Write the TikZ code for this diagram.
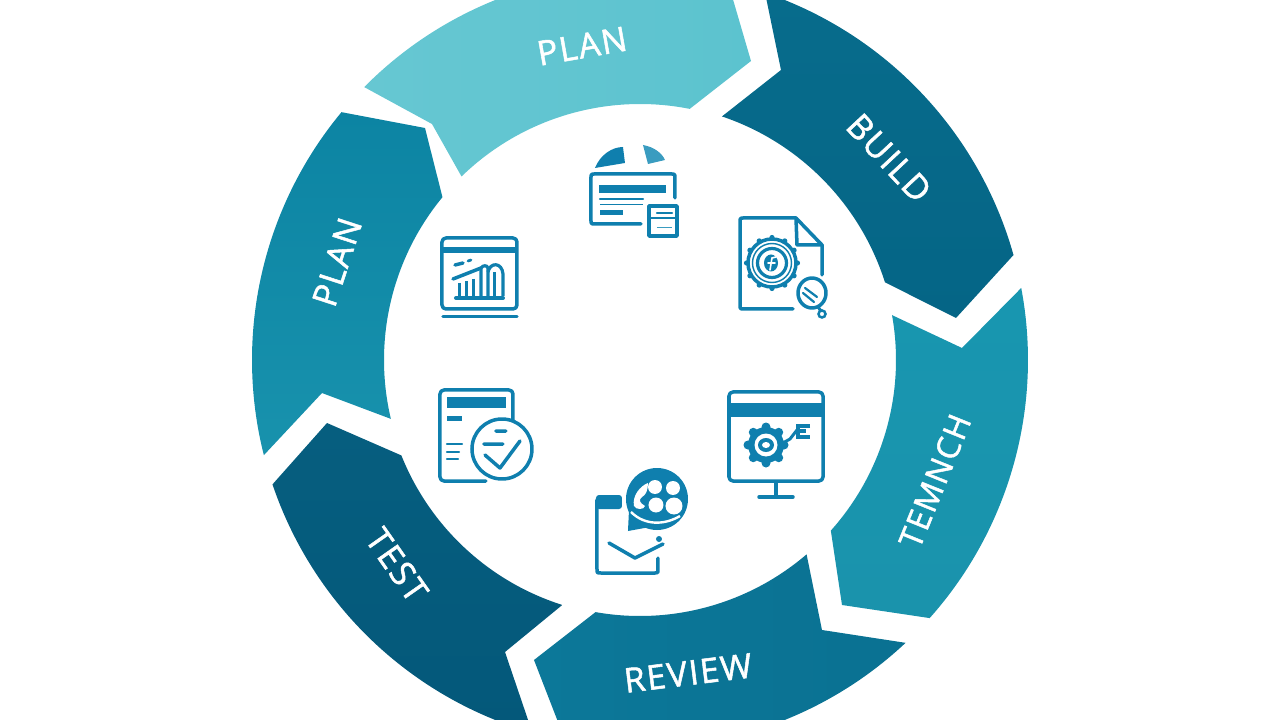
\documentclass[tikz,border=0pt]{standalone}
\usepackage{fontspec}
\setmainfont{Open Sans}
\newfontface\labelfont[FakeBold=1.5,LetterSpace=5]{Open Sans}
\definecolor{ic}{HTML}{0F7FAE}
\definecolor{icl}{HTML}{3A9CC0}
\definecolor{sega}{HTML}{66C7D2}
\definecolor{segb}{HTML}{5CC3CF}
\definecolor{segc}{HTML}{076C8C}
\definecolor{segd}{HTML}{056586}
\definecolor{sege}{HTML}{1896B0}
\definecolor{segf}{HTML}{1A93AC}
\definecolor{segg}{HTML}{0A7192}
\definecolor{segh}{HTML}{0C7899}
\definecolor{segi}{HTML}{065E7F}
\definecolor{segj}{HTML}{04587A}
\definecolor{segk}{HTML}{0C84A3}
\definecolor{segl}{HTML}{1892AD}
\tikzset{
  seglabel/.style={text=white,font=\labelfont\fontsize{34}{34}\selectfont,inner sep=0pt},
  icline/.style={draw=ic,line width=3.5pt,line cap=round,line join=round},
  icthin/.style={draw=ic,line width=2.2pt,line cap=round},
}
\begin{document}
\begin{tikzpicture}[x=1pt,y=1pt]
\useasboundingbox (-640,-360) rectangle (640,360);
\clip (-640,-360) rectangle (640,360);
% ---- ring segments
\shade[left color=sega,right color=segb] (135.3:388) arc[start angle=135.3,end angle=76.9,radius=388pt] -- (111,299) -- (78.8:256) arc[start angle=78.8,end angle=134.2,radius=256pt] -- (-208,236) -- cycle;
\shade[top color=segc,bottom color=segd] (71.2:388) arc[start angle=71.2,end angle=15.7,radius=388pt] -- (316,42) -- (17.6:257) arc[start angle=17.6,end angle=71.4,radius=257pt] -- (141,290) -- cycle;
\shade[top color=sege,bottom color=segf] (10.7:388) arc[start angle=10.7,end angle=-41.7,radius=388pt] -- (202,-245) -- (-41.8:256) arc[start angle=-41.8,end angle=10.1,radius=256pt] -- (322,12) -- cycle;
\shade[right color=segg,left color=segh] (-46.8:388) arc[start angle=-46.8,end angle=-101.1,radius=388pt] -- (-106,-300) -- (-100:256) arc[start angle=-100,end angle=-49.4,radius=256pt] -- (182,-270) -- cycle;
\shade[top color=segi,bottom color=segj] (-106.1:388) arc[start angle=-106.1,end angle=-161.3,radius=388pt] -- (-313,-63) -- (-158.2:257) arc[start angle=-158.2,end angle=-107.6,radius=257pt] -- (-135,-292) -- cycle;
\shade[top color=segk,bottom color=segl] (194.2:388) arc[start angle=194.2,end angle=140.3,radius=388pt] -- (-215,232) -- (140.5:256) arc[start angle=140.5,end angle=193.3,radius=256pt] -- (-318,-33) -- cycle;
% ---- labels
\node[seglabel,rotate=10] (plantop) at (-58,314) {PLAN};
\node[seglabel,rotate=-47] (build) at (249,202) {BUILD};
\node[seglabel,rotate=68,font=\labelfont\fontsize{32}{32}\selectfont] (honey) at (295,-121) {TEMNCH};
\node[seglabel,rotate=7] (review) at (48,-313) {REVIEW};
\node[seglabel,rotate=-55] (test) at (-243,-205) {TEST};
\node[seglabel,rotate=72] (planleft) at (-303,98) {PLAN};
% ---- icons, in reference pixel coordinates
\begin{scope}[shift={(-640pt,360pt)},y=-1pt]
% top icon
\fill[ic] (595,168) .. controls (600,155) and (612,147) .. (623,147) -- (625,163) -- cycle;
\fill[icl] (643,145) .. controls (654,147) and (662,153) .. (665,160) -- (648,164) -- cycle;
\draw[icline] (675,198) -- (675,177) .. controls (675,174) .. (672,174) -- (594,174) .. controls (591,174) .. (591,177) -- (591,221) .. controls (591,224) .. (594,224) -- (641,224);
\fill[ic] (599,185) rectangle (666,193);
\draw[icthin] (600,199) -- (643,199);
\draw[ic,line width=1pt] (600,205) -- (643,205);
\fill[ic] (600,210) rectangle (623,215);
\draw[draw=white,line width=6pt] (649,206) rectangle (677,236);
\draw[icline,fill=white] (649,206) rectangle (677,236);
\draw[ic,line width=1.5pt] (649,218) -- (677,218);
\draw[icthin] (657,213) -- (672,213);
\draw[icl,line width=.8pt] (657,227) -- (672,227);
% document + gear icon
\draw[icline] (793,309) -- (743,309) .. controls (740,309) .. (740,306) -- (740,221) .. controls (740,218) .. (743,218) -- (796,218) -- (822,245) -- (822,275);
\draw[icline] (796,218) -- (797,245) -- (822,245);
\draw[fill=white,draw=ic,line width=3.5pt] (772,263) circle[radius=24];
\foreach \a in {0,30,...,330} \fill[ic] ([shift={(772,263)}]\a:25.5) circle[radius=2.6];
\draw[ic,line width=1.4pt] (772,263) circle[radius=19.5];
\draw[ic,line width=3.2pt] (772,263) circle[radius=14.5];
\fill[ic] (771,263) ellipse[x radius=7,y radius=8.5];
\draw[white,line width=1.6pt,line cap=round] (770,270) -- (772,258) -- (776,257) (768,263) -- (775,263);
\draw[icline,fill=white] (812,293) ellipse[x radius=14,y radius=15];
\draw[icthin] (805,288) -- (817,297) (803,293) -- (814,302);
\draw[ic,line width=3pt] (818,307) -- (821,311);
\draw[ic,line width=2.5pt,fill=white] (822,314) circle[radius=3.5];
% chart icon
\draw[icline,rounded corners=4pt] (442,238) rectangle (517,309);
\fill[ic] (442,247) rectangle (517,253);
\draw[icline] (443,316.5) -- (517,316.5);
\draw[ic,line width=4pt,line cap=round] (456,298) -- (503,298);
\draw[icline] (453,279) -- (481,268);
\draw[ic,line width=3pt] (460,283) -- (460,296) (467,281) -- (467,296) (474,279) -- (474,296);
\draw[ic,line width=3.2pt] (481,296) -- (481,268) .. controls (483,265) and (487,265) .. (488,268) -- (488,296);
\draw[ic,line width=3.2pt] (488,272) .. controls (490,262) and (502,262) .. (503,274) -- (503,296);
\draw[ic,line width=3pt] (495,296) -- (495,272);
\draw[ic,line width=3.5pt,line cap=round] (455,265) -- (463,263);
\draw[ic,line width=2.8pt,line cap=round] (468,261) -- (471,260);
% checklist icon
\draw[icline,rounded corners=4pt] (486,481) -- (440,481) -- (440,390) -- (513,390) -- (513,425);
\fill[ic] (447,397) rectangle (506,408);
\fill[ic] (447,416) rectangle (462,421);
\draw[icthin] (447,444) -- (462,444) (447,452) -- (459,452) (447,459) -- (458,459);
\draw[icline,fill=white] (502,449) circle[radius=30];
\draw[icline] (496,431) -- (506,431) (484,444) -- (503,444) (485,455) -- (500,468) -- (520,441);
% monitor icon
\draw[icline,rounded corners=4pt] (729,392) rectangle (823,481);
\fill[ic] (729,403) rectangle (823,417);
\draw[icline] (776,482) -- (776,497) (759,497) -- (793,497);
\foreach \a in {0,45,...,315} \fill[ic] ([shift={(766,445)}]\a:18) circle[radius=4.5];
\fill[ic] (766,445) circle[radius=18];
\fill[white] (766,445) circle[radius=11.5];
\fill[ic] (766,445) ellipse[x radius=8,y radius=7];
\fill[white] (766,445) ellipse[x radius=4,y radius=3];
\draw[ic,line width=3pt] (783,443) -- (790,439) -- (797,430);
\draw[ic,line width=3.2pt] (810,426) -- (798,426) -- (798,437) -- (810,437) (798,431) -- (806,431);
% bubble icon
\draw[icline] (658,558) -- (658,569) .. controls (658,573) .. (655,573) -- (601,573) .. controls (597,573) .. (597,569) -- (597,500);
\fill[ic,rounded corners=3pt] (596,495) rectangle (622,509);
\draw[icline] (609,543) -- (635,558) -- (663,544);
\fill[ic] (659,539) circle[radius=3];
\fill[ic] (629,510) -- (628,531) -- (650,527) -- cycle;
\fill[ic] (657,499) circle[radius=31];
\fill[white] (655,487) circle[radius=7] (673,488) circle[radius=7] (656,505) circle[radius=7.5] (674,506) circle[radius=8.5];
\fill[white] (648,483) .. controls (640,486) and (632,496) .. (634,506) .. controls (636,510) and (644,510) .. (645,506) .. controls (640,503) and (638,500) .. (642,497) .. controls (646,495) and (648,490) .. (648,483) -- cycle;
\draw[white,line width=2.4pt] (631,512) .. controls (645,526) and (665,525) .. (680,516);
\end{scope}
\end{tikzpicture}
\end{document}
